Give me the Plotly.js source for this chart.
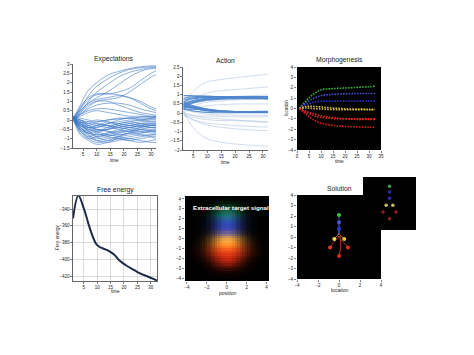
<!DOCTYPE html>
<html><head><meta charset="utf-8">
<script src="https://cdn.plot.ly/plotly-3.0.1.min.js"></script>
<style>html,body{margin:0;padding:0;background:#fff;}#chart{width:474px;height:355px;}</style>
</head><body><div id="chart"></div>
<script>
// ---------- DATA ----------
const expTime = [1.5, 4, 7, 10, 14, 18, 22, 26, 30, 32];
const expectations = [
  [0.1, 0.8, 1.6, 2.0, 2.4, 2.6, 2.75, 2.85, 2.9, 2.9],
  [0.1, 0.6, 1.3, 1.8, 2.2, 2.5, 2.7, 2.8, 2.85, 2.85],
  [0.0, 0.4, 1.0, 1.5, 1.9, 2.3, 2.55, 2.7, 2.8, 2.8],
  [0.1, 0.5, 0.9, 1.2, 1.5, 1.9, 2.3, 2.6, 2.75, 2.75],
  [0.0, 0.3, 0.7, 1.0, 1.1, 1.2, 1.5, 1.9, 2.3, 2.45],
  [0.1, 0.7, 1.2, 1.4, 1.4, 1.5, 1.7, 2.1, 2.5, 2.65],
  [0.1, 0.6, 1.1, 1.35, 1.4, 1.35, 1.2, 0.9, 0.6, 0.5],
  [0.0, 0.5, 0.9, 1.1, 1.2, 1.3, 1.2, 1.0, 0.7, 0.6],
  [0.1, 0.4, 0.8, 1.0, 1.0, 0.8, 0.6, 0.4, 0.3, 0.25],
  [0.0, 0.3, 0.6, 0.8, 0.9, 0.9, 0.8, 0.6, 0.45, 0.4],
  [0.1, 0.3, 0.5, 0.6, 0.6, 0.5, 0.4, 0.3, 0.2, 0.2],
  [0.0, 0.2, 0.4, 0.5, 0.4, 0.3, 0.2, 0.2, 0.15, 0.15],
  [0.2, 0.1, 0.0, -0.1, 0.0, 0.1, 0.1, 0.1, 0.1, 0.1],
  [0.1, -0.1, -0.2, -0.1, 0.0, 0.05, 0.1, 0.15, 0.2, 0.2],
  [0.0, -0.2, -0.4, -0.3, -0.2, -0.1, 0.0, 0.0, 0.05, 0.05],
  [0.1, -0.3, -0.5, -0.6, -0.5, -0.3, -0.2, -0.1, 0.0, 0.0],
  [0.0, -0.4, -0.7, -0.8, -0.7, -0.5, -0.4, -0.3, -0.2, -0.2],
  [0.1, -0.5, -0.8, -1.0, -0.9, -0.7, -0.5, -0.4, -0.3, -0.3],
  [0.0, -0.6, -0.9, -1.1, -1.0, -0.9, -0.8, -0.7, -0.6, -0.6],
  [0.2, -0.3, -0.6, -0.9, -1.1, -1.0, -0.9, -0.8, -0.8, -0.8],
  [0.1, -0.2, -0.5, -0.7, -0.9, -1.0, -1.1, -1.0, -0.9, -0.9],
  [0.0, -0.4, -0.8, -1.1, -1.2, -1.1, -1.0, -1.1, -1.2, -1.2],
  [0.1, -0.1, -0.3, -0.5, -0.6, -0.7, -0.6, -0.5, -0.5, -0.5],
  [0.0, -0.3, -0.4, -0.4, -0.3, -0.4, -0.5, -0.6, -0.7, -0.7],
  [0.2, 0.0, -0.2, -0.3, -0.4, -0.3, -0.2, -0.3, -0.4, -0.4],
  [0.1, -0.2, -0.3, -0.2, -0.3, -0.5, -0.6, -0.4, -0.3, -0.3],
  [0.0, -0.5, -0.7, -0.6, -0.4, -0.2, -0.1, -0.2, -0.3, -0.3],
  [0.1, -0.4, -0.6, -0.5, -0.6, -0.8, -0.7, -0.5, -0.4, -0.4],
  [0.2, -0.1, -0.1, 0.0, -0.1, -0.2, -0.3, -0.2, -0.1, -0.1],
  [0.0, -0.6, -1.0, -1.2, -1.1, -0.9, -0.7, -0.8, -0.9, -1.0],
  [0.1, -0.3, -0.5, -0.4, -0.2, 0.0, 0.1, 0.0, -0.1, -0.1],
  [0.0, -0.2, -0.6, -0.8, -0.7, -0.6, -0.6, -0.7, -0.6, -0.6],
  [0.1, 0.0, -0.1, -0.2, -0.3, -0.2, -0.1, 0.0, 0.1, 0.15],
  [0.2, -0.4, -0.7, -0.9, -0.8, -0.6, -0.4, -0.5, -0.6, -0.65],
  [0.0, -0.5, -0.9, -0.7, -0.5, -0.4, -0.3, -0.35, -0.4, -0.45],
  [0.1, -0.7, -1.0, -0.9, -0.8, -0.9, -1.0, -0.9, -0.8, -0.75],
  [0.0, -0.2, -0.4, -0.6, -0.8, -0.8, -0.7, -0.6, -0.55, -0.55],
  [0.1, 0.0, -0.3, -0.5, -0.5, -0.4, -0.3, -0.2, -0.2, -0.2],
  [0.0, -0.8, -1.1, -1.3, -1.2, -1.0, -1.1, -1.2, -1.1, -1.05],
  [0.1, -0.1, -0.4, -0.3, -0.1, -0.3, -0.4, -0.3, -0.25, -0.25]
];

const actTime = [1.5, 4, 7, 10, 14, 18, 22, 26, 30, 32];
const actionPale = [
  [0.3, 1.0, 1.45, 1.7, 1.8, 1.88, 1.95, 2.02, 2.08, 2.12],
  [0.2, 0.6, 0.9, 1.1, 1.2, 1.25, 1.3, 1.35, 1.4, 1.42],
  [0.3, 0.6, 0.75, 0.85, 0.9, 0.9, 0.92, 0.95, 0.97, 0.98],
  [0.1, 0.3, 0.5, 0.6, 0.65, 0.7, 0.72, 0.75, 0.78, 0.8],
  [0.0, 0.2, 0.35, 0.4, 0.45, 0.48, 0.5, 0.5, 0.5, 0.5],
  [0.0, -0.1, -0.2, -0.25, -0.3, -0.35, -0.4, -0.42, -0.45, -0.45],
  [-0.1, -0.3, -0.45, -0.55, -0.6, -0.65, -0.7, -0.72, -0.75, -0.75],
  [0.0, -0.3, -0.5, -0.65, -0.75, -0.82, -0.88, -0.92, -0.95, -0.95],
  [-0.1, -0.2, -0.3, -0.35, -0.4, -0.4, -0.42, -0.45, -0.5, -0.5],
  [0.1, -0.6, -1.1, -1.4, -1.55, -1.65, -1.7, -1.75, -1.78, -1.8],
  [0.0, -0.1, -0.15, -0.15, -0.18, -0.2, -0.2, -0.2, -0.2, -0.2],
  [0.2, 0.1, 0.0, -0.05, -0.1, -0.1, -0.12, -0.12, -0.12, -0.12]
];
const actionBand = [
  [0.95, 0.95, 0.93, 0.92, 0.9, 0.9, 0.9, 0.9, 0.9, 0.9],
  [0.6, 0.75, 0.82, 0.85, 0.87, 0.88, 0.88, 0.88, 0.88, 0.88],
  [0.5, 0.65, 0.75, 0.8, 0.83, 0.84, 0.85, 0.85, 0.85, 0.85],
  [0.4, 0.55, 0.68, 0.75, 0.8, 0.82, 0.82, 0.82, 0.82, 0.82],
  [0.7, 0.8, 0.85, 0.87, 0.87, 0.86, 0.85, 0.84, 0.83, 0.83],
  [0.3, 0.5, 0.62, 0.7, 0.75, 0.77, 0.78, 0.78, 0.78, 0.78],
  [0.8, 0.88, 0.9, 0.9, 0.88, 0.86, 0.84, 0.82, 0.8, 0.8],
  [0.45, 0.6, 0.7, 0.76, 0.79, 0.8, 0.8, 0.8, 0.78, 0.75],
  [0.4, 0.35, 0.28, 0.2, 0.14, 0.1, 0.08, 0.07, 0.07, 0.07],
  [0.3, 0.3, 0.25, 0.18, 0.12, 0.08, 0.06, 0.05, 0.05, 0.05],
  [0.6, 0.45, 0.32, 0.22, 0.14, 0.1, 0.08, 0.07, 0.06, 0.06],
  [0.2, 0.22, 0.2, 0.15, 0.1, 0.08, 0.06, 0.05, 0.04, 0.04],
  [0.5, 0.4, 0.3, 0.2, 0.12, 0.09, 0.07, 0.06, 0.05, 0.05],
  [0.35, 0.3, 0.22, 0.15, 0.1, 0.08, 0.07, 0.08, 0.1, 0.1],
  [0.25, 0.15, 0.08, 0.04, 0.02, 0.02, 0.02, 0.02, 0.02, 0.02],
  [0.45, 0.32, 0.2, 0.12, 0.08, 0.06, 0.05, 0.05, 0.05, 0.05]
];

const morphTime = [1, 4, 7, 10, 14, 18, 22, 26, 30, 32.5];
const morphCells = [
  [0, 0.8, 1.4, 1.8, 1.9, 1.95, 2.0, 2.05, 2.1, 2.15],
  [0, 0.6, 1.0, 1.25, 1.35, 1.4, 1.42, 1.45, 1.45, 1.45],
  [0, 0.4, 0.6, 0.7, 0.7, 0.72, 0.72, 0.72, 0.72, 0.72],
  [0, 0.2, 0.2, 0.15, 0.05, 0.0, -0.05, -0.05, -0.08, -0.08],
  [0, 0.05, 0.0, -0.05, -0.1, -0.12, -0.12, -0.12, -0.12, -0.12],
  [0, -0.3, -0.5, -0.7, -0.85, -0.95, -1.0, -1.0, -1.0, -1.0],
  [0, -0.4, -0.7, -0.85, -0.95, -1.0, -1.02, -1.05, -1.05, -1.05],
  [0, -0.6, -1.1, -1.4, -1.6, -1.7, -1.75, -1.78, -1.8, -1.8]
];
const cellColors = ['#35c83e', '#4a55e0', '#2a38d8', '#e8d84a', '#e6c43a', '#e03a20', '#e02a1a', '#e8281a'];

const feTime = [1, 3, 5, 7.5, 10, 13.8, 16.3, 18.2, 21, 24, 26, 29, 30.5, 32.3];
const freeEnergy = [-351, -324, -339, -365, -383, -389, -394, -401, -407.5, -413, -416.5, -420.5, -422.5, -425];

// Solution: final cell positions and trajectories
const solutionX = [0, 0, 0, -0.45, 0.5, -0.85, 0.85, 0];
const solutionY = [2.1, 1.4, 0.75, -0.2, -0.2, -1.0, -1.0, -1.8];
const trajX = [[0, 0, 0], [0, 0, 0], [0, 0, 0], [0, -0.3, -0.45], [0, 0.3, 0.5], [0.1, -0.5, -0.85], [-0.1, 0.4, 0.85], [0.1, 0.15, 0]];
const trajY = [[0.3, 1.2, 2.1], [0.3, 0.9, 1.4], [0.3, 0.5, 0.75], [0.3, 0.0, -0.2], [0.3, 0.0, -0.2], [0.1, -0.5, -1.0], [0.1, -0.5, -1.0], [0.1, -1.0, -1.8]];
const trajColors = ['#3050c0', '#3050c0', '#3050c0', '#c07030', '#c07030', '#b83020', '#b83020', '#b83020'];
// Target configuration (inset and signal source positions)
const targetX = [0, 0, 0, -0.5, 0.5, -0.97, 0.97, 0];
const targetY = [2.6, 1.75, 0.8, -0.27, -0.27, -1.3, -1.3, -2.3];
const insetColors = ['#3f9a55', '#2a2ab0', '#2a2ab0', '#c8c060', '#c8c060', '#8a2020', '#8a2020', '#8a2020'];
const glowRGB = [[15, 95, 40], [30, 40, 125], [30, 40, 125], [120, 85, 20], [120, 85, 20], [120, 28, 10], [120, 28, 10], [135, 25, 10]];

// ---------- BUILD ----------
const F = 'Liberation Sans, Arial, sans-serif';
const W = 474, H = 355;
const dx = (a, b) => [a / W, b / W];
const dy = (top, bot) => [1 - bot / H, 1 - top / H];

const traces = [];
expectations.forEach(s => traces.push({x: expTime, y: s, xaxis: 'x', yaxis: 'y', type: 'scatter', mode: 'lines',
  line: {color: 'rgba(60,120,200,0.85)', width: 0.7, shape: 'spline'}, hoverinfo: 'skip'}));
actionPale.forEach(s => traces.push({x: actTime, y: s, xaxis: 'x2', yaxis: 'y2', type: 'scatter', mode: 'lines',
  line: {color: 'rgba(170,192,222,0.8)', width: 0.7, shape: 'spline'}, hoverinfo: 'skip'}));
actionBand.forEach(s => traces.push({x: actTime, y: s, xaxis: 'x2', yaxis: 'y2', type: 'scatter', mode: 'lines',
  line: {color: 'rgba(80,135,205,0.9)', width: 1.2, shape: 'spline'}, hoverinfo: 'skip'}));
morphCells.forEach((s, i) => traces.push({x: morphTime, y: s, xaxis: 'x3', yaxis: 'y3', type: 'scatter', mode: 'lines',
  line: {color: cellColors[i], width: 1.6, shape: 'spline', dash: '1.6px,1.2px'}, opacity: 0.9, hoverinfo: 'skip'}));
traces.push({x: feTime, y: freeEnergy, xaxis: 'x4', yaxis: 'y4', type: 'scatter', mode: 'lines',
  line: {color: '#1c2a48', width: 2, shape: 'spline'}, hoverinfo: 'skip'});

// signal image built from the target positions
const gx = [], gy = [];
for (let v = -4.125; v <= 4.2; v += 0.25) gx.push(v);
for (let v = -4.375; v <= 4.4; v += 0.25) gy.push(v);
const img = gy.map(yy => gx.map(xx => {
  const c = [0, 0, 0];
  targetX.forEach((tx, k) => {
    const w = Math.exp(-((xx - tx) ** 2) / (2 * 1.05 * 1.05) - ((yy - targetY[k]) ** 2) / (2 * 0.6 * 0.6));
    for (let j = 0; j < 3; j++) c[j] += glowRGB[k][j] * w;
  });
  return c.map(v => Math.min(255, Math.round(v)));
}));
traces.push({type: 'image', z: img, x0: gx[0], dx: 0.25, y0: gy[0], dy: 0.25, xaxis: 'x5', yaxis: 'y5', hoverinfo: 'skip'});

trajX.forEach((tx, i) => traces.push({x: tx, y: trajY[i], xaxis: 'x6', yaxis: 'y6', type: 'scatter', mode: 'lines',
  line: {color: trajColors[i], width: 1, shape: 'spline'}, hoverinfo: 'skip'}));
traces.push({x: solutionX, y: solutionY, xaxis: 'x6', yaxis: 'y6', type: 'scatter', mode: 'markers',
  marker: {color: cellColors, size: 4}, hoverinfo: 'skip'});
traces.push({x: targetX, y: targetY, xaxis: 'x7', yaxis: 'y7', type: 'scatter', mode: 'markers',
  marker: {color: insetColors, size: 3.5}, hoverinfo: 'skip'});

function ax(domain, range, o) {
  return Object.assign({domain, range, autorange: false, showgrid: false, zeroline: false, showline: true,
    linecolor: '#000', linewidth: 0.6, ticks: 'outside', ticklen: 2, tickwidth: 0.5, tickcolor: '#000',
    tickfont: {size: 4.5, color: '#222', family: F}, fixedrange: true}, o || {});
}
const t5 = [5, 10, 15, 20, 25, 30];
const blackBoxes = [[297, 381, 67, 150], [185, 269, 196, 281], [297, 381, 195, 279], [363, 416, 177, 230]];
const layout = {
  width: W, height: H, margin: {l: 0, r: 0, t: 0, b: 0}, showlegend: false,
  paper_bgcolor: '#fff', plot_bgcolor: 'rgba(0,0,0,0)', font: {family: F},
  xaxis: ax(dx(73, 156), [1.3, 31.8], {anchor: 'y', tickvals: t5}),
  yaxis: ax(dy(64, 148), [-1.5, 3], {anchor: 'x', tickvals: [-1.5, -1, -0.5, 0, 0.5, 1, 1.5, 2, 2.5, 3]}),
  xaxis2: ax(dx(183, 268), [1.3, 31.8], {anchor: 'y2', tickvals: t5}),
  yaxis2: ax(dy(67, 150), [-2, 2.5], {anchor: 'x2', tickvals: [-2, -1.5, -1, -0.5, 0, 0.5, 1, 1.5, 2, 2.5]}),
  xaxis3: ax(dx(297, 381), [0, 35], {anchor: 'y3', tickvals: [0, 5, 10, 15, 20, 25, 30, 35], showline: false}),
  yaxis3: ax(dy(67, 150), [-4, 4], {anchor: 'x3', tickvals: [-4, -3, -2, -1, 0, 1, 2, 3, 4], showline: false}),
  xaxis4: ax(dx(73, 157), [1, 32.3], {anchor: 'y4', tickvals: t5, mirror: true, showgrid: true, gridcolor: '#b8b8b8', gridwidth: 0.5}),
  yaxis4: ax(dy(196, 281), [-425.6, -324.5], {anchor: 'x4', tickvals: [-340, -360, -380, -400, -420], mirror: true, showgrid: true, gridcolor: '#b8b8b8', gridwidth: 0.5}),
  xaxis5: ax(dx(185, 269), [-4.2, 4.25], {anchor: 'y5', tickvals: [-4, -2, 0, 2, 4], showline: false}),
  yaxis5: ax(dy(196, 281), [-4.3, 4.3], {anchor: 'x5', tickvals: [-4, -3, -2, -1, 0, 1, 2, 3, 4], showline: false, scaleanchor: false}),
  xaxis6: ax(dx(297, 381), [-4, 4], {anchor: 'y6', tickvals: [-4, -2, 0, 2, 4], showline: false}),
  yaxis6: ax(dy(195, 279), [-4, 4], {anchor: 'x6', tickvals: [-4, -3, -2, -1, 0, 1, 2, 3, 4], showline: false}),
  xaxis7: ax(dx(363, 416), [-4, 4], {anchor: 'y7', showline: false, ticks: '', showticklabels: false}),
  yaxis7: ax(dy(177, 230), [-4, 4], {anchor: 'x7', showline: false, ticks: '', showticklabels: false}),
  shapes: blackBoxes.map(b => ({type: 'rect', xref: 'paper', yref: 'paper', x0: b[0] / W, x1: b[1] / W,
    y0: 1 - b[3] / H, y1: 1 - b[2] / H, fillcolor: '#000', line: {width: 0}, layer: 'below'})),
  annotations: []
};
function note(text, x, y, size, o) {
  layout.annotations.push(Object.assign({text, x: x / W, y: 1 - y / H, xref: 'paper', yref: 'paper', showarrow: false,
    xanchor: 'center', yanchor: 'middle', font: {size, color: '#222', family: F}}, o || {}));
}
note('Expectations', 114, 59, 6.8);
note('Action', 225, 60, 6.8);
note('Morphogenesis', 339, 60, 6.8);
note('Free energy', 115, 190, 6.8);
note('Solution', 339, 189, 6.8);
note('time', 114, 160, 4.6);
note('time', 225, 162, 4.6);
note('time', 339, 161.5, 4.6);
note('time', 115, 291, 4.6);
note('position', 227, 293, 5);
note('location', 339, 289.5, 5);
note('location', 286, 108, 4.6, {textangle: -90});
note('Free energy', 57, 238, 4.6, {textangle: -90});
note('<b>Extracellular target signal</b>', 231, 207, 6.2, {font: {size: 6.2, color: '#fff', family: F}});

Plotly.newPlot('chart', traces, layout, {staticPlot: true, displayModeBar: false});
</script>
</body></html>
